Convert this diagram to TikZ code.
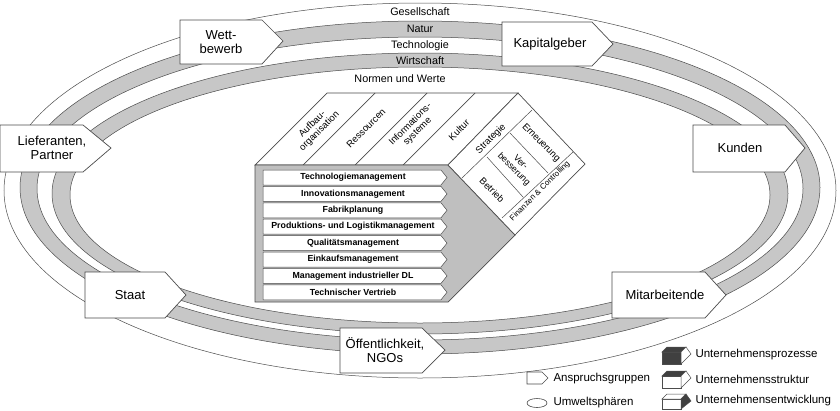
\documentclass[tikz,border=0pt]{standalone}
\usepackage{fontspec}
\setmainfont{Liberation Sans}
\begin{document}
\begin{tikzpicture}[x=1pt,y=-1pt,
  ln/.style={draw=black!70,line width=0.7pt},
  band/.style={fill=black!22,even odd rule},
  sh/.style={ln,fill=white},
  shtext/.style={font=\fontsize{13}{14.5}\selectfont,align=center},
  ring/.style={font=\fontsize{10.8}{12}\selectfont},
  pr/.style={ln,fill=white,line width=0.5pt},
  prt/.style={font=\bfseries\fontsize{8.8}{9}\selectfont},
  rt/.style={font=\fontsize{9.5}{10}\selectfont,align=center},
  lg/.style={font=\fontsize{11.5}{12}\selectfont,anchor=west}]
\useasboundingbox (0,0) rectangle (840,410);
% rings
\draw[ln,fill=white,line width=0.5pt] (420,190.5) ellipse [x radius=416,y radius=187.5];
\fill[band] (420,187.5) ellipse [x radius=400,y radius=166.5] (420,188.5) ellipse [x radius=383,y radius=151.5];
\draw[ln,line width=0.5pt] (420,187.5) ellipse [x radius=400,y radius=166.5] (420,188.5) ellipse [x radius=383,y radius=151.5];
\fill[band] (420,193.5) ellipse [x radius=368,y radius=140.5] (420,195) ellipse [x radius=350,y radius=128];
\draw[ln,line width=0.5pt] (420,193.5) ellipse [x radius=368,y radius=140.5] (420,195) ellipse [x radius=350,y radius=128];
\node[ring] (g) at (420,12) {Gesellschaft};
\node[ring] (n) at (420,29) {Natur};
\node[ring] (t) at (420,46) {Technologie};
\node[ring] (w) at (420,61) {Wirtschaft};
\node[ring] (nw) at (400,79) {Normen und Werte};
% stakeholders
\draw[sh] (180,20)--(262,20)--(283,41)--(262,64)--(180,64)--cycle;
\node[shtext] (wb) at (221,42) {Wett-\\bewerb};
\draw[sh] (502,22)--(592,22)--(613,44)--(592,66)--(502,66)--cycle;
\node[shtext] (kg) at (550,44) {Kapitalgeber};
\draw[sh] (0,125)--(83,125)--(111,148)--(83,172)--(0,172)--cycle;
\node[shtext] (lp) at (52,148) {Lieferanten,\\Partner};
\draw[sh] (693,125)--(785,125)--(805,148)--(785,172)--(693,172)--cycle;
\node[shtext] (ku) at (740,148) {Kunden};
\draw[sh] (85,272)--(165,272)--(186,295)--(165,318)--(85,318)--cycle;
\node[shtext] (st) at (130,295) {Staat};
\draw[sh] (612,272)--(705,272)--(726,295)--(705,318)--(612,318)--cycle;
\node[shtext] (ma) at (665,295) {Mitarbeitende};
\draw[sh] (340,328)--(422,328)--(445,350)--(422,373)--(340,373)--cycle;
\node[shtext] (ng) at (385,350) {Öffentlichkeit,\\NGOs};
% cube
\draw[ln,fill=white] (255,165)--(327,93)--(518,93)--(448,165)--cycle;
\draw[ln] (303,165)--(375,93) (355,165)--(427,93) (403,165)--(475,93);
\draw[ln,fill=black!25] (255,165)--(448,165)--(515,235)--(448,302)--(255,302)--cycle;
\draw[ln,fill=white] (448,165)--(518,93)--(585,164)--(515,235)--cycle;
\draw[ln,line width=0.5pt] (462,178)--(532,110) (502,218)--(573,152)
  (487,157)--(523,197) (510,133)--(548,173);
\node[rt,rotate=45] (ab) at (316,128) {Aufbau-\\organisation};
\node[rt,rotate=45] (rs) at (366,128) {Ressourcen};
\node[rt,rotate=45] (is) at (414,128) {Informations-\\systeme};
\node[rt,rotate=45] (ku2) at (459,130) {Kultur};
\node[rt,rotate=45] (sg) at (491,139) {Strategie};
\node[rt,rotate=-45] (er) at (541,143) {Erneuerung};
\node[rt,rotate=-45,font=\fontsize{9}{9.5}\selectfont] (vb) at (517,166) {Ver-\\besserung};
\node[rt,rotate=-45] (be) at (492,190) {Betrieb};
\node[rt,rotate=45,font=\fontsize{8}{8}\selectfont] (fc) at (540,191) {Finanzen \& Controlling};
\foreach \t [count=\i from 0] in {Technologiemanagement,Innovationsmanagement,Fabrikplanung,Produktions- und Logistikmanagement,Qualitätsmanagement,Einkaufsmanagement,Management industrieller DL,Technischer Vertrieb}{
  \pgfmathsetmacro{\yy}{170+16.4*\i}
  \draw[pr] (263,\yy)--(441,\yy)--(447,\yy+7.5)--(441,\yy+15)--(263,\yy+15)--cycle;
  \node[prt] (p\i) at (353,\yy+7.5) {\t};
}
% legend
\draw[pr,line width=0.6pt] (527,372)--(542,372)--(548,378)--(542,384)--(527,384)--cycle;
\node[lg] (la) at (550,379) {Anspruchsgruppen};
\draw[pr,line width=0.6pt] (537,403) ellipse [x radius=10,y radius=4.5];
\node[lg] (lu) at (550,403) {Umweltsphären};
\draw[pr,fill=black!75] (662,352)--(681,352)--(681,364)--(662,364)--cycle;
\draw[pr,fill=black!75] (662,352)--(667,347)--(686,347)--(681,352)--cycle;
\draw[pr] (681,352)--(686,347)--(691,354)--(681,364)--cycle;
\node[lg] (l1) at (692,355) {Unternehmensprozesse};
\draw[pr] (662,376)--(681,376)--(681,388)--(662,388)--cycle;
\draw[pr,fill=black!75] (662,376)--(667,371)--(686,371)--(681,376)--cycle;
\draw[pr] (681,376)--(686,371)--(691,378)--(681,388)--cycle;
\node[lg] (l2) at (692,379) {Unternehmensstruktur};
\draw[pr] (662,399)--(681,399)--(681,409)--(662,409)--cycle;
\draw[pr] (662,399)--(667,394)--(686,394)--(681,399)--cycle;
\draw[pr,fill=black!75] (681,399)--(686,394)--(691,401)--(681,409)--cycle;
\node[lg] (l3) at (692,401) {Unternehmensentwicklung};
\end{tikzpicture}
\end{document}
